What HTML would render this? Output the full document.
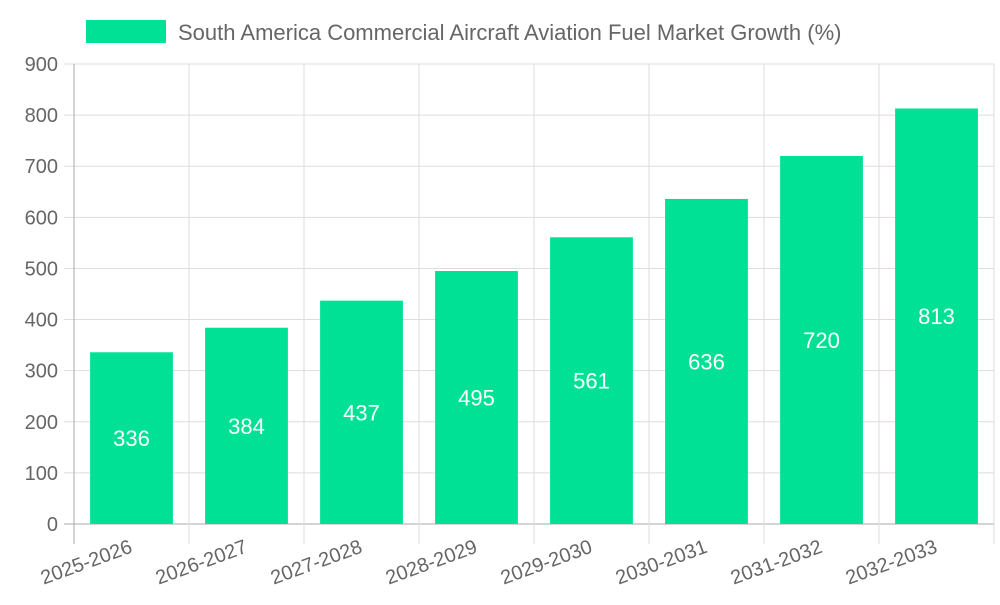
<!DOCTYPE html>
<html><head><meta charset="utf-8"><style>
body{margin:0;background:#fff;font-family:"Liberation Sans",sans-serif}
</style></head><body>
<svg id="c" width="1000" height="600" xmlns="http://www.w3.org/2000/svg">
<rect x="86" y="20" width="80" height="23" fill="#00e196"/>
<text x="178" y="40" font-size="22" fill="#666">South America Commercial Aircraft Aviation Fuel Market Growth (%)</text>
<g id="grid"></g><g id="bars"></g><g id="labels"></g>
</svg>
<script>
const categories=["2025-2026","2026-2027","2027-2028","2028-2029","2029-2030","2030-2031","2031-2032","2032-2033"];
const values=[336,384,437,495,561,636,720,813];
const yTicks=[0,100,200,300,400,500,600,700,800,900];
const ns="http://www.w3.org/2000/svg";
const X0=74,X1=994,Y0=524,Y1=64,YMAX=900;
const bw=(X1-X0)/categories.length;
const y=v=>Y0-(v/YMAX)*(Y0-Y1);
const xc=i=>X0+bw*(i+0.5);
function mk(t,a,p,txt){const e=document.createElementNS(ns,t);for(const k in a)e.setAttribute(k,a[k]);if(txt!==undefined)e.textContent=txt;p.appendChild(e);return e;}
const g=document.getElementById('grid'),b=document.getElementById('bars'),l=document.getElementById('labels');
yTicks.forEach(t=>{
 const ln=mk('line',{x1:X0-10,x2:X1,y1:y(t),y2:y(t),stroke:t===0?'#aaa':'#ddd','stroke-width':1},g);
 
 
 const tx=mk('text',{x:X0-16,y:y(t)+7,'text-anchor':'end','font-size':20,fill:'#666'},g,t);
 
 
});
for(let i=0;i<=categories.length;i++){
 const x=X0+bw*i;
 const ln=mk('line',{x1:x,x2:x,y1:Y1,y2:Y0+20,stroke:i===0?'#aaa':'#ddd','stroke-width':1},g);
 
 
}
categories.forEach((c,i)=>{
 const w=bw*0.72,v=values[i];
 const r=mk('rect',{x:xc(i)-w/2,y:y(v),width:w,height:Y0-y(v),fill:'#00e196'},b);
 
 
 const vt=mk('text',{x:xc(i),y:(y(v)+Y0)/2+8,'text-anchor':'middle','font-size':22,fill:'#fff'},l,v);
 
 
 const ct=mk('text',{x:xc(i)+2,y:552,'text-anchor':'end','font-size':20,fill:'#666',transform:`rotate(-20 ${xc(i)+2} 552)`},l,c);
 
 
});
</script>
</body></html>
